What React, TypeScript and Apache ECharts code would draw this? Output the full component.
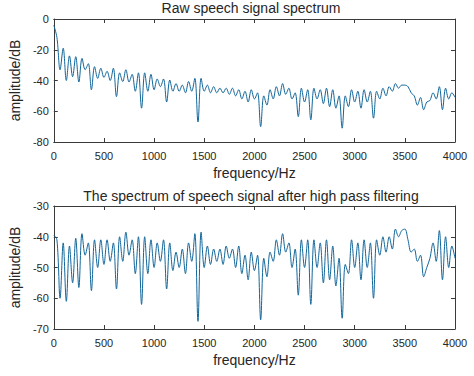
import React, { useEffect, useRef } from "react";
import * as echarts from "echarts";

// frequency grid (Hz), step 31.25
const freqStep = 31.25;
const pointCount = 129;
const freqs: number[] = Array.from({ length: pointCount }, (_, i) => i * freqStep);

// Raw speech signal spectrum (dB)
const rawSpectrum: number[] = [
  -4, -12, -33, -19, -40, -24, -37.5, -24.5, -41, -25.6,
  -33, -29, -46, -31, -38.6, -32, -38, -34, -40, -32,
  -50.5, -35, -40.7, -33, -41, -36, -47, -35, -58, -35,
  -47, -36, -46, -39, -44, -39, -54, -39.7, -47, -42,
  -47, -43, -48, -40.7, -47, -38.6, -67, -38.6, -47, -43,
  -48, -44, -48, -45, -48, -45, -49, -45, -50, -46,
  -52, -47, -54, -46, -52, -48, -70, -50, -56, -46,
  -52, -44, -50, -42, -49, -45, -52, -48, -63.5, -45,
  -54, -46, -65.6, -45, -52, -46, -55, -45, -57, -46,
  -58, -50, -71, -50, -57, -46, -54, -47, -58, -46,
  -54, -47, -64.5, -47, -52, -45, -50, -44, -47, -42,
  -45, -43, -43, -44, -48, -50, -56, -51, -59, -54,
  -53, -48, -52, -44, -59, -45, -52, -48, -51,
];

// Spectrum after high pass filtering (dB)
const filteredSpectrum: number[] = [
  -39.5, -41, -60, -42, -61, -43, -55, -40.5, -56.5, -39,
  -46, -42, -57.5, -41, -50, -41, -49, -41, -48, -42,
  -57, -40, -48, -38.5, -46, -41, -52, -40, -62, -40,
  -52, -41, -50, -42, -48, -41, -57, -42, -51, -45,
  -50, -44, -52, -42, -48, -39, -67.5, -38.5, -50, -43,
  -49, -44, -48, -44, -49, -43, -47, -44, -50, -43,
  -52, -46, -54, -45, -51, -46, -67, -47, -53, -45,
  -48, -41, -46, -39, -45, -42, -50, -44, -59, -41,
  -50, -41, -62, -41, -50, -42, -55, -41, -54, -43,
  -56, -47, -66.5, -49, -52, -41, -50, -42, -54, -41,
  -50, -42, -60, -41, -46, -40, -45, -40, -44, -37.5,
  -40, -38, -37.5, -41, -45, -44, -48, -46, -53, -50,
  -47, -42, -48, -38, -54, -40, -50, -43, -47,
];

const titles = ["Raw speech signal spectrum", "The spectrum of speech signal after high pass filtering"];
const xTickMin = 0;
const xTickMax = 4000;
const xTickStep = 500;
const y1Range = [-80, 0, 20];
const y2Range = [-70, -30, 10];
const xLabel = "frequency/Hz";
const yLabel = "amplitude/dB";

const FONT = "Liberation Sans, Arial, Helvetica, sans-serif";
const AXIS_COLOR = "#3a3a3a";
const TEXT_COLOR = "#262626";
const LINE_COLOR = "#12669a";

export default function App() {
  const ref = useRef<HTMLDivElement>(null);

  useEffect(() => {
    if (!ref.current) return;
    const chart = echarts.init(ref.current, undefined, { renderer: "svg" });

    const grids = [
      { left: 47, top: 19, width: 408, height: 123 },
      { left: 47, top: 206, width: 408, height: 123 },
    ];

    const mkX = (gi: number, pos: "bottom" | "top") => ({
      type: "value",
      gridIndex: gi,
      position: pos,
      min: xTickMin,
      max: xTickMax,
      interval: xTickStep,
      name: pos === "bottom" ? xLabel : "",
      nameLocation: "middle",
      nameGap: 24,
      nameTextStyle: { fontFamily: FONT, fontSize: 14, color: TEXT_COLOR },
      axisLine: { show: true, onZero: false, lineStyle: { color: AXIS_COLOR, width: 1 } },
      axisTick: { show: true, inside: true, length: 4, lineStyle: { color: AXIS_COLOR } },
      axisLabel: {
        show: pos === "bottom",
        fontFamily: FONT,
        fontSize: 11,
        color: TEXT_COLOR,
        margin: 8,
        formatter: (v: number) => String(v),
      },
      splitLine: { show: false },
    });

    const mkY = (gi: number, pos: "left" | "right", r: number[]) => ({
      type: "value",
      gridIndex: gi,
      position: pos,
      min: r[0],
      max: r[1],
      interval: r[2],
      name: pos === "left" ? yLabel : "",
      nameLocation: "middle",
      nameGap: 29,
      nameTextStyle: { fontFamily: FONT, fontSize: 14, color: TEXT_COLOR },
      axisLine: { show: true, onZero: false, lineStyle: { color: AXIS_COLOR, width: 1 } },
      axisTick: { show: true, inside: true, length: 4, lineStyle: { color: AXIS_COLOR } },
      axisLabel: {
        show: pos === "left",
        fontFamily: FONT,
        fontSize: 11,
        color: TEXT_COLOR,
        margin: 5,
        formatter: (v: number) => String(v),
      },
      splitLine: { show: false },
    });

    const mkData = (vals: number[]) => freqs.map((f, i) => [f, vals[i]]);

    chart.setOption({
      animation: false,
      backgroundColor: "#ffffff",
      grid: grids,
      xAxis: [mkX(0, "bottom"), mkX(0, "top"), mkX(1, "bottom"), mkX(1, "top")],
      yAxis: [mkY(0, "left", y1Range), mkY(0, "right", y1Range), mkY(1, "left", y2Range), mkY(1, "right", y2Range)],
      graphic: [
        {
          type: "text",
          x: 251,
          y: 8,
          style: {
            text: titles[0],
            fontFamily: FONT,
            fontSize: 14,
            fill: TEXT_COLOR,
            textAlign: "center",
            textVerticalAlign: "middle",
          },
        },
        {
          type: "text",
          x: 251,
          y: 196,
          style: {
            text: titles[1],
            fontFamily: FONT,
            fontSize: 14,
            fill: TEXT_COLOR,
            textAlign: "center",
            textVerticalAlign: "middle",
          },
        },
      ],
      series: [
        {
          type: "line",
          xAxisIndex: 0,
          yAxisIndex: 0,
          data: mkData(rawSpectrum),
          showSymbol: false,
          smooth: 0.35,
          lineStyle: { color: LINE_COLOR, width: 1 },
        },
        {
          type: "line",
          xAxisIndex: 2,
          yAxisIndex: 2,
          data: mkData(filteredSpectrum),
          showSymbol: false,
          smooth: 0.35,
          lineStyle: { color: LINE_COLOR, width: 1 },
        },
      ],
    });

    return () => chart.dispose();
  }, []);

  return (
    <div
      ref={ref}
      style={{ position: "fixed", left: 0, top: 0, width: 474, height: 376, background: "#fff" }}
    />
  );
}
